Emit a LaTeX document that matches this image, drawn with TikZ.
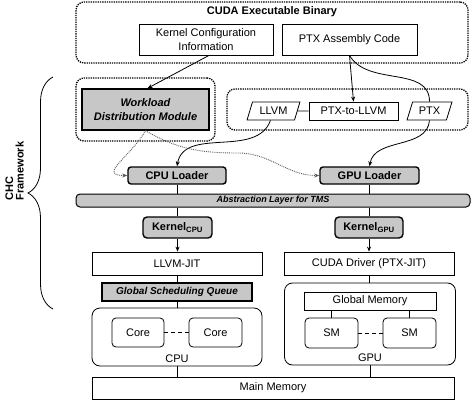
\documentclass[tikz,border=0pt]{standalone}
\usepackage{fontspec}
\setmainfont{Liberation Sans}
\usepackage{tikz}
\usetikzlibrary{positioning}
\usetikzlibrary{shapes.geometric}
\usetikzlibrary{arrows.meta}
\usetikzlibrary{decorations.pathreplacing}

\newcommand{\txt}{\fontsize{11}{14}\selectfont}

\begin{document}
\begin{tikzpicture}[
      x=1pt,y=-1pt,
      every node/.style={font=\txt},
      plainbox/.style={draw,line width=0.8pt,inner sep=1pt,align=center},
      graybox/.style={draw,line width=1.4pt,fill=black!22,inner sep=1pt,align=center,font=\txt\bfseries},
      dotframe/.style={draw,densely dotted,line width=1.3pt,rounded corners=8pt},
      roundbox/.style={draw,line width=0.8pt,rounded corners=#1},
      databox/.style={draw,line width=0.8pt,trapezium,trapezium left angle=68,trapezium right angle=112,
        trapezium stretches=true,minimum height=18pt,inner sep=1pt},
      flow/.style={line width=0.8pt,-{Stealth[length=5pt,width=4pt]}},
      hint/.style={black!65,densely dotted,line width=0.9pt,-{Stealth[length=5pt,width=4pt]}},
      link/.style={line width=0.8pt},
    ]
    \useasboundingbox (0,0) rectangle (473,401);

    % executable
    \node[dotframe,minimum width=392pt,minimum height=61pt] (bin) at (272,32.5) {};
    \node[font=\txt\bfseries] (bintitle) at (272,12) {CUDA Executable Binary};
    \node[plainbox,minimum width=134pt,minimum height=31pt] (kcfg) at (206,39.5) {Kernel Configuration\\Information};
    \node[plainbox,minimum width=135pt,minimum height=31pt] (ptxasm) at (349.5,39.5) {PTX Assembly Code};

    % framework
    \node[dotframe,minimum width=139pt,minimum height=63pt] (wdmframe) at (145.5,109.5) {};
    \node[graybox,font=\txt\bfseries\itshape,minimum width=127pt,minimum height=41pt] (wdm) at (145.5,109.5) {Workload\\Distribution Module};
    \node[dotframe,minimum width=241pt,minimum height=41pt] (jitframe) at (347.5,109.5) {};
    \node[databox,minimum width=53pt] (llvm) at (273.5,111) {LLVM};
    \node[plainbox,minimum width=89pt,minimum height=18pt] (p2l) at (353.5,111) {PTX-to-LLVM};
    \node[databox,minimum width=45pt] (ptx) at (429.5,111) {PTX};

    \node[graybox,rounded corners=3pt,minimum width=98pt,minimum height=17pt] (cpuld) at (177,175.5) {CPU Loader};
    \node[graybox,rounded corners=3pt,minimum width=99pt,minimum height=17pt] (gpuld) at (369.5,175.5) {GPU Loader};
    \node[graybox,line width=1pt,rounded corners=4pt,minimum width=394pt,minimum height=13pt,
      font=\fontsize{9}{10}\selectfont\bfseries\itshape] (tms) at (273,200.5) {Abstraction Layer for TMS};
    \node[graybox,rounded corners=4pt,minimum width=69pt,minimum height=21pt] (kcpu) at (177.5,227.5) {Kernel\textsubscript{CPU}};
    \node[graybox,rounded corners=4pt,minimum width=68pt,minimum height=21pt] (kgpu) at (369,227.5) {Kernel\textsubscript{GPU}};
    \node[plainbox,minimum width=170pt,minimum height=23pt] (ljit) at (177,263.5) {LLVM-JIT};
    \node[plainbox,minimum width=170pt,minimum height=23pt] (cudadrv) at (369,263.5) {CUDA Driver (PTX-JIT)};
    \node[graybox,font=\fontsize{10}{11}\selectfont\bfseries\itshape,minimum width=150pt,minimum height=18pt] (gsq) at (177,292) {Global Scheduling Queue};

    % hardware
    \node[roundbox=8pt,minimum width=170pt,minimum height=58pt] (cpu) at (177,337) {};
    \node[above=0pt of cpu.south] (cpulbl) {CPU};
    \node[roundbox=4pt,minimum width=52pt,minimum height=29pt] (core1) at (138,332.5) {Core};
    \node[roundbox=4pt,minimum width=53pt,minimum height=29pt] (core2) at (215.5,332.5) {Core};
    \node[roundbox=8pt,minimum width=171pt,minimum height=82pt] (gpu) at (370,324) {};
    \node[above=0pt of gpu.south] (gpulbl) {GPU};
    \node[plainbox,minimum width=132pt,minimum height=18pt] (gmem) at (370,301) {Global Memory};
    \node[roundbox=4pt,minimum width=53pt,minimum height=30pt] (sm1) at (331.5,333) {SM};
    \node[roundbox=4pt,minimum width=53pt,minimum height=30pt] (sm2) at (409.5,333) {SM};
    \node[plainbox,minimum width=362pt,minimum height=22pt] (mainmem) at (273,388) {Main Memory};

    % brace
    \coordinate (bracelo) at (53,309);
    \coordinate (bracehi) at (53,77);
    \draw[line width=0.8pt,decorate,decoration={brace,amplitude=25pt}] (bracelo) -- (bracehi);
    \node[rotate=90,align=left,font=\fontsize{11}{10.5}\selectfont\bfseries] (chc) at (14.5,171) {CHC\\Framework};

    % connectors
    \coordinate (hintmid) at (238,153);
    \draw[flow] ([xshift=3pt]kcfg.south) -- ([xshift=2pt]wdm.north);
    \draw[flow] (ptxasm.south) -- (p2l.north);
    \draw[link] (ptxasm.south) to[out=-60,in=90] (ptx.north);
    \draw[link] (llvm) -- (p2l);
    \draw[flow] ([xshift=-3pt]llvm.south) to[out=-110,in=80] (cpuld.north);
    \draw[flow] (ptx.south) to[out=-95,in=80] (gpuld.north);
    \draw[hint] (wdm.south) to[out=-120,in=180,looseness=1.6] (cpuld.west);
    \draw[hint] (wdm.south) to[out=-30,in=180] (hintmid) to[out=0,in=180] (gpuld.west);

    \draw[link] (cpuld.south) -- (cpuld.south |- tms.north);
    \draw[link] (gpuld.south) -- (gpuld.south |- tms.north);
    \draw[link] (kcpu.north |- tms.south) -- (kcpu.north);
    \draw[link] (kgpu.north |- tms.south) -- (kgpu.north);
    \draw[flow] (kcpu.south) -- (kcpu.south |- ljit.north);
    \draw[flow] (kgpu.south) -- (kgpu.south |- cudadrv.north);
    \draw[link] (ljit) -- (gsq);
    \draw[link] (gsq) -- (cpu);
    \draw[link] (cudadrv) -- (cudadrv |- gpu.north);
    \draw[link] (cpu.south) -- (cpu.south |- mainmem.north);
    \draw[link] (gpu.south) -- (gpu.south |- mainmem.north);
    \draw[link] (sm1.north |- gmem.south) -- (sm1.north);
    \draw[link] (sm2.north |- gmem.south) -- (sm2.north);
    \draw[link,dash pattern=on 4pt off 3pt] (core1) -- (core2);
    \draw[link,dash pattern=on 4pt off 3pt] (sm1) -- (sm2);
\end{tikzpicture}
\end{document}
